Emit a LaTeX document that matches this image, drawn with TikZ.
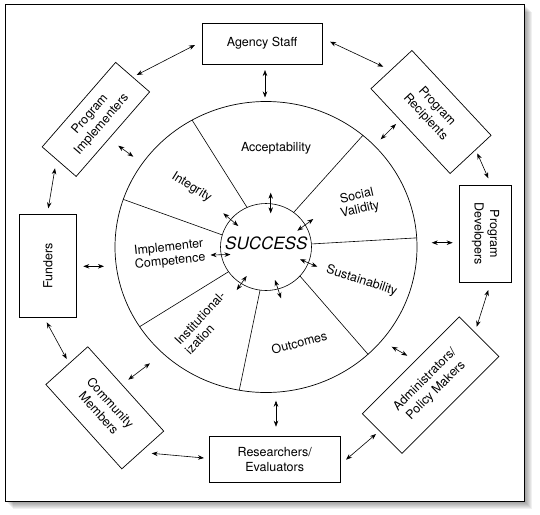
\documentclass[tikz,border=0pt]{standalone}
\usepackage{fontspec}
\setmainfont{TeX Gyre Heros}
\usetikzlibrary{arrows.meta,calc}
\begin{document}
\begin{tikzpicture}[x=1pt,y=-1pt,
  box/.style={draw, line width=0.7pt, rectangle, inner sep=0pt, align=center, font=\fontsize{12.5}{15.5}\selectfont},
  seg/.style={align=center, inner sep=0pt, font=\fontsize{12.5}{14}\selectfont},
  link/.style={{Stealth[length=6pt,width=4.5pt]}-{Stealth[length=6pt,width=4.5pt]}, line width=0.6pt},
  divider/.style={line width=0.6pt}]
\useasboundingbox (0,0) rectangle (540,514);
% shadow and frame
\foreach \i in {1,...,8}
  \fill[black, opacity=0.06] (5+\i,4+\i) rectangle (524+\i,501+\i);
\filldraw[fill=white, line width=1pt] (5,4) rectangle (524,501);
% wheel
\coordinate (c) at (266,247);
\draw[line width=0.7pt] (c) ellipse [x radius=151pt, y radius=145.5pt];
\draw[line width=0.6pt] (c) ellipse [x radius=45.5pt, y radius=43.5pt];
\foreach \a/\b in {119.3/114.6, 50.1/52.6, 3.6/4, -47.5/-41.8, -100.2/-97.5, -146.8/-145.4, 160.9/163.9}
  \draw[divider] ({266+151*cos(\a)},{247-145.5*sin(\a)}) -- ({266+45.5*cos(\b)},{247-43.5*sin(\b)});
% outer boxes
\node[box, minimum width=120pt, minimum height=41pt] (staff) at (262,43.5) {Agency Staff};
\node[box, minimum width=116pt, minimum height=56pt, rotate=-47] (recip) at (431,112) {Program\\Recipients};
\node[box, minimum width=97pt, minimum height=52pt, rotate=-90] (dev) at (485.5,233.7) {Program\\Developers};
\node[box, minimum width=137pt, minimum height=56pt, rotate=45] (admin) at (430.6,385.2) {Administrators/\\Policy Makers};
\node[box, minimum width=131pt, minimum height=46pt] (research) at (274.7,459.3) {Researchers/\\Evaluators};
\node[box, minimum width=113.5pt, minimum height=56.4pt, rotate=-48] (community) at (104.8,407.8) {Community\\Members};
\node[box, minimum width=103pt, minimum height=57pt, rotate=90] (funders) at (48,265.7) {Funders};
\node[box, minimum width=112pt, minimum height=45pt, rotate=49] (impl) at (95.9,119.4) {Program\\Implementers};
% segment labels
\node[seg] (accept) at (276,148.5) {Acceptability};
\node[seg, rotate=-32] (integrity) at (191.7,187.3) {Integrity};
\node[seg, rotate=13] (social) at (358.5,203) {Social\\Validity};
\node[seg, rotate=6] (implcomp) at (169.5,254.7) {Implementer\\Competence};
\node[seg, rotate=-18] (sustain) at (361.7,280.7) {Sustainability};
\node[seg, rotate=15] (outcomes) at (299.3,342.7) {Outcomes};
\node[seg, rotate=47, align=left] (inst) at (205,323) {Institutional-\\ization};
\node[inner sep=0pt, font=\fontsize{17}{17}\selectfont\itshape] (success) at (266.3,243.3) {SUCCESS};
% arrow end points
\coordinate (a1) at (195,45);    \coordinate (b1) at (136.7,75);
\coordinate (a2) at (265,70);    \coordinate (b2) at (265,97.5);
\coordinate (a3) at (330,41.7);  \coordinate (b3) at (383.3,66.7);
\coordinate (a4) at (396,124);   \coordinate (b4) at (380.7,139.3);
\coordinate (a5) at (477.3,153.3); \coordinate (b5) at (488.3,178.3);
\coordinate (a6) at (431.7,242.7); \coordinate (b6) at (452.7,242.7);
\coordinate (a7) at (488.3,290); \coordinate (b7) at (476.7,326.7);
\coordinate (a8) at (391.7,346.7); \coordinate (b8) at (407.3,355.7);
\coordinate (a9) at (376,434);   \coordinate (b9) at (346,459.7);
\coordinate (a10) at (276,400.7); \coordinate (b10) at (276,426.7);
\coordinate (a11) at (151.7,453.3); \coordinate (b11) at (204,458);
\coordinate (a12) at (150,363.3); \coordinate (b12) at (128.3,379.7);
\coordinate (a13) at (46.7,322.3); \coordinate (b13) at (66.7,359);
\coordinate (a14) at (83.3,266.3); \coordinate (b14) at (104,266.3);
\coordinate (a15) at (55,168.3);  \coordinate (b15) at (48.3,208.3);
\coordinate (a16) at (118.3,145.7); \coordinate (b16) at (133.3,156.7);
\coordinate (a17) at (270.7,192.7); \coordinate (b17) at (270.7,213.3);
\coordinate (a18) at (223.3,213.3); \coordinate (b18) at (238.3,226);
\coordinate (a19) at (313.3,219); \coordinate (b19) at (297.3,230.7);
\coordinate (a20) at (210.5,255); \coordinate (b20) at (230.5,254.5);
\coordinate (a21) at (300,259.3); \coordinate (b21) at (317.3,266.7);
\coordinate (a22) at (275,280);   \coordinate (b22) at (281,298.3);
\coordinate (a23) at (246.7,276); \coordinate (b23) at (236.7,290);
\foreach \k in {1,...,23}
  \draw[link] (a\k) -- (b\k);
\end{tikzpicture}
\end{document}
